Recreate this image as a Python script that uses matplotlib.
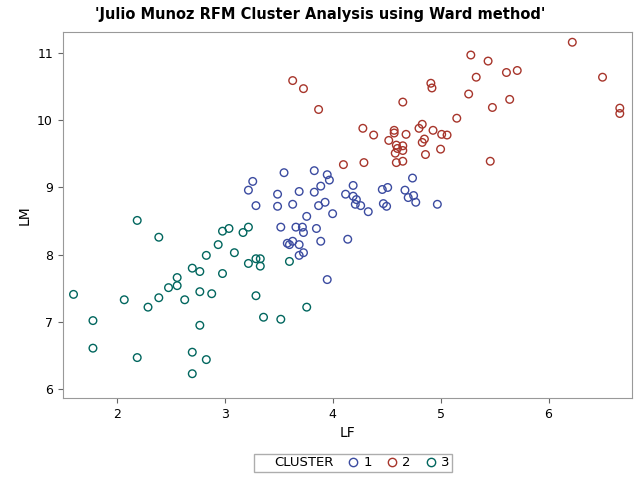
import matplotlib
matplotlib.use("Agg")
import matplotlib.pyplot as plt
from matplotlib.lines import Line2D

c1_x = [3.29,3.49,3.63,3.87,3.93,3.76,4.00,3.52,3.66,3.72,3.73,3.85,3.89,4.14,3.58,3.60,3.63,3.69,3.69,3.73,3.95,4.21,
        3.55,3.83,3.95,3.97,3.26,3.22,3.49,3.69,3.83,3.89,4.19,4.12,4.19,4.22,4.46,4.51,4.74,4.67,4.75,4.70,4.77,4.97,4.47,4.50,4.26,4.33]
c1_y = [8.73,8.72,8.75,8.73,8.78,8.57,8.61,8.41,8.41,8.41,8.33,8.39,8.20,8.23,8.17,8.15,8.20,8.15,7.99,8.03,7.63,8.75,
        9.22,9.25,9.19,9.11,9.09,8.96,8.90,8.94,8.93,9.02,9.03,8.90,8.87,8.82,8.97,9.00,9.14,8.96,8.88,8.85,8.78,8.75,8.76,8.72,8.73,8.64]
c2_x = [3.63,3.73,3.87,4.28,4.38,4.52,4.57,4.57,4.59,4.60,4.58,4.65,4.65,4.59,4.65,4.68,4.65,4.80,4.83,4.85,4.83,4.93,
        4.86,4.91,4.92,5.01,5.06,5.00,5.15,5.26,5.28,5.33,5.44,5.48,5.46,5.61,5.71,5.64,6.22,6.50,6.66,6.66,4.10,4.29]
c2_y = [10.59,10.47,10.16,9.88,9.78,9.70,9.85,9.81,9.63,9.58,9.51,9.62,9.55,9.37,9.39,9.79,10.27,9.88,9.94,9.72,9.67,9.85,
        9.49,10.55,10.48,9.79,9.78,9.57,10.03,10.39,10.97,10.64,10.88,10.19,9.39,10.71,10.74,10.31,11.16,10.64,10.18,10.10,9.34,9.37]
c3_x = [2.19,2.39,1.60,1.78,1.78,2.07,2.19,2.29,2.39,2.48,2.56,2.56,2.63,2.70,2.77,2.77,2.77,2.70,2.70,2.83,2.83,2.88,
        2.94,2.98,3.04,2.98,3.09,3.17,3.22,3.22,3.29,3.33,3.33,3.29,3.36,3.52,3.76,3.60]
c3_y = [8.51,8.26,7.41,7.02,6.61,7.33,6.47,7.22,7.36,7.51,7.66,7.54,7.33,7.80,7.75,7.45,6.95,6.55,6.23,6.44,7.99,7.42,
        8.15,8.35,8.39,7.72,8.03,8.33,8.41,7.87,7.94,7.94,7.83,7.39,7.07,7.04,7.22,7.90]
clusters = ['1', '2', '3']

cols = ['#3B4BA0', '#A7352B', '#01665E']
fig = plt.figure(figsize=(6.4, 4.8), dpi=100)
ax = fig.add_axes([0.098, 0.171, 0.889, 0.762])
for xs, ys, c in zip([c1_x, c2_x, c3_x], [c1_y, c2_y, c3_y], cols):
    ax.scatter(xs, ys, s=30, facecolors='none', edgecolors=c, linewidths=1.0)
ax.set_xlim(1.5, 6.77)
ax.set_ylim(5.87, 11.31)
ax.set_xticks([2, 3, 4, 5, 6])
ax.set_yticks([6, 7, 8, 9, 10, 11])
for s in ax.spines.values():
    s.set_color('#999999')
ax.tick_params(colors='#666666', labelcolor='black', labelsize=9)
ax.set_xlabel('LF', fontsize=10)
ax.set_ylabel('LM', fontsize=10)
fig.suptitle("'Julio Munoz RFM Cluster Analysis using Ward method'", fontsize=10.5, fontweight='bold', y=0.985)
handles = [Line2D([], [], ls='none')] + \
          [Line2D([], [], marker='o', ls='none', mfc='none', mec=c, ms=6) for c in cols]
leg = fig.legend(handles, ['CLUSTER'] + clusters, ncol=4, loc='lower center',
                 bbox_to_anchor=(0.552, 0.003), fontsize=9.5, fancybox=False,
                 edgecolor='#999999', handletextpad=0.3, columnspacing=1.0, borderpad=0.2,
                 handlelength=1.0)
fig.savefig('out.png')
